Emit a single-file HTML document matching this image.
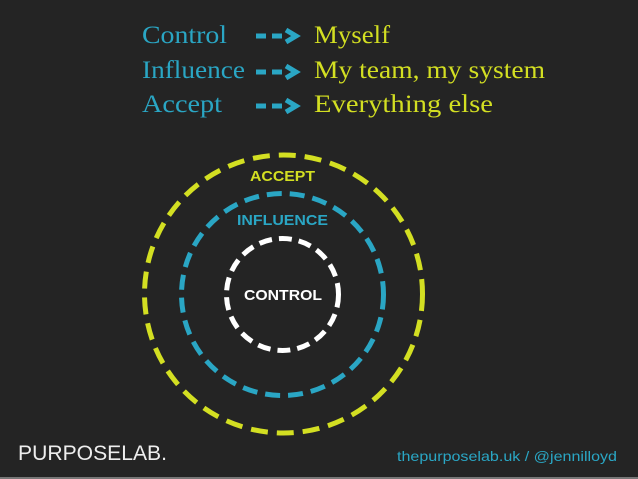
<!DOCTYPE html>
<html><head><style>
body{margin:0;width:638px;height:479px;background:#242424;overflow:hidden;position:relative;font-family:"Liberation Sans",sans-serif}
</style></head><body>
<svg width="638" height="479" style="position:absolute;left:0;top:0">
<g font-family="Liberation Serif" font-size="25">
<text x="142" y="43" fill="#2aa6c4" textLength="85" lengthAdjust="spacingAndGlyphs">Control</text>
<text x="142" y="78" fill="#2aa6c4" textLength="103" lengthAdjust="spacingAndGlyphs">Influence</text>
<text x="142" y="112" fill="#2aa6c4" textLength="80" lengthAdjust="spacingAndGlyphs">Accept</text>
<text x="314" y="43" fill="#d3df22" textLength="76" lengthAdjust="spacingAndGlyphs">Myself</text>
<text x="314" y="78" fill="#d3df22" textLength="231" lengthAdjust="spacingAndGlyphs">My team, my system</text>
<text x="314" y="112" fill="#d3df22" textLength="179" lengthAdjust="spacingAndGlyphs">Everything else</text>
</g>
<g stroke="#2aa6c4" stroke-width="5" fill="none">
<path d="M256 36h10M272 36h10M286 30l10 6-10 6" />
<path d="M256 72h10M272 72h10M286 66l10 6-10 6" />
<path d="M256 106h10M272 106h10M286 100l10 6-10 6" />
</g>
<circle cx="283.5" cy="294" r="139" fill="none" stroke="#d3df22" stroke-width="5" stroke-dasharray="17 9"/>
<circle cx="282.5" cy="294.5" r="101" fill="none" stroke="#2aa6c4" stroke-width="5" stroke-dasharray="15 8"/>
<circle cx="282.5" cy="294.5" r="56" fill="none" stroke="#fff" stroke-width="5" stroke-dasharray="13 7"/>
<text x="250" y="181" fill="#d3df22" font-family="Liberation Sans" font-weight="bold" font-size="15" textLength="65" lengthAdjust="spacingAndGlyphs">ACCEPT</text>
<text x="237" y="225" fill="#2aa6c4" font-family="Liberation Sans" font-weight="bold" font-size="15" textLength="91" lengthAdjust="spacingAndGlyphs">INFLUENCE</text>
<text x="244" y="300" fill="#fff" font-family="Liberation Sans" font-weight="bold" font-size="15" textLength="78" lengthAdjust="spacingAndGlyphs">CONTROL</text>
<text x="18" y="460" fill="#eee" font-family="Liberation Sans" font-size="21" textLength="149" lengthAdjust="spacingAndGlyphs">PURPOSELAB.</text>
<text x="397" y="461" fill="#2aa6c4" font-family="Liberation Sans" font-size="14" textLength="220" lengthAdjust="spacingAndGlyphs">thepurposelab.uk / @jennilloyd</text>
<rect x="0" y="477" width="638" height="2" fill="#777"/>
</svg>
</body></html>
